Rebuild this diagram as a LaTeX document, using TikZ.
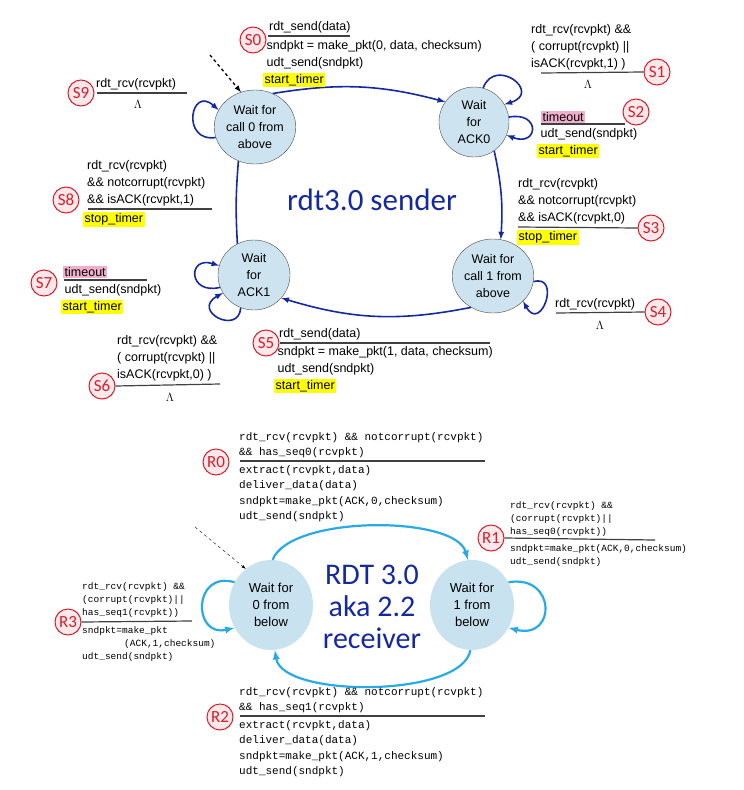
\documentclass[tikz,border=0pt]{standalone}
\usepackage{fontspec}
\usepackage{xcolor}
\usetikzlibrary{shapes.geometric, arrows}
\newfontfamily\fsans{Liberation Sans}
\newfontfamily\fmono{Liberation Mono}
\newfontfamily\fcal{Carlito}
\definecolor{sblue}{RGB}{20,40,160}
\definecolor{rblue}{RGB}{40,170,230}
\definecolor{sfill}{RGB}{205,228,240}
\definecolor{rfill}{RGB}{200,226,240}
\definecolor{cred}{RGB}{215,30,40}
\definecolor{cpink}{RGB}{253,232,235}
\definecolor{tpink}{RGB}{240,175,205}
\definecolor{hyel}{RGB}{255,255,0}
\newcommand{\hy}[1]{{\setlength{\fboxsep}{1.5pt}\colorbox{hyel}{#1}}}
\newcommand{\hp}[1]{{\setlength{\fboxsep}{1.5pt}\colorbox{tpink}{#1}}}
\tikzset{
->, % directed edges
>=latex,
sstate/.style={ellipse, draw=black!70, fill=sfill, minimum width=76pt, minimum height=74pt, inner sep=0pt, align=center, font=\fsans\fontsize{12.5}{17}\selectfont},
rstate/.style={ellipse, fill=rfill, minimum width=84pt, minimum height=90pt, inner sep=0pt, align=center, font=\fsans\fontsize{13}{17}\selectfont},
tag/.style={circle, draw=cred, line width=1pt, fill=cpink, text=cred, minimum size=26pt, inner sep=0pt, font=\fcal\fontsize{17}{17}\selectfont},
slbl/.style={inner sep=1pt, align=left, font=\fsans\fontsize{12.5}{17}\selectfont},
rlbl/.style={inner sep=1pt, align=left, font=\fmono\fontsize{11}{15.5}\selectfont},
rsml/.style={inner sep=1pt, align=left, font=\fmono\fontsize{9.5}{13}\selectfont},
lam/.style={inner sep=0pt, font=\fontsize{13}{13}\selectfont},
bar/.style={-, draw=black!75, line width=1.2pt},
sarr/.style={->, draw=sblue, line width=1.6pt},
rarr/.style={->, draw=rblue, line width=2.2pt},
init/.style={->, dashed, thick, black},
}
\begin{document}
\begin{tikzpicture}[x=1pt, y=-1pt]
\useasboundingbox (0,0) rectangle (744,790);

% sender states
\node[sstate] (A) at (255,127) {Wait for\\call 0 from\\above};
\node[sstate, minimum width=70pt, minimum height=70pt] (B) at (474,122) {Wait\\for\\ACK0};
\node[sstate] (C) at (493,276) {Wait for\\call 1 from\\above};
\node[sstate, minimum width=72pt, minimum height=70pt] (D) at (254,275) {Wait\\for\\ACK1};
\node[text=sblue, font=\fcal\fontsize{31}{31}\selectfont] (stitle) at (372,200) {rdt3.0 sender};

% sender edges
\coordinate (s0in) at (210,55);
\draw[init, line width=1.3pt] (s0in) -- (A.112);
\draw[sarr] (A.62) to[bend left=12] (B.145);
\draw[sarr] (B.-55) to[bend left=8] (C.78);
\draw[sarr] (C.-125) to[bend left=14] (D.-40);
\draw[sarr, -] (D.118) to[bend left=4] (A.-116);
\draw[sarr] (A.195) .. controls +(-35,5) and +(-28,-25) .. (A.155); % S9
\draw[sarr] (B.75) .. controls +(12,-32) and +(38,-12) .. (B.30); % S1
\draw[sarr] (B.8) .. controls +(32,-6) and +(32,12) .. (B.-22); % S2
\draw[sarr] (C.-8) .. controls +(28,-8) and +(18,32) .. (C.-40); % S4
\draw[sarr] (D.200) .. controls +(-32,8) and +(-32,-10) .. (D.165); % S7
\draw[sarr] (D.-112) .. controls +(-2,28) and +(-32,18) .. (D.-150); % S6

% sender labels
\node[tag] (S0) at (253,40) {S0};
\node[slbl, anchor=south west] (s0g) at (268,34) {rdt\_send(data)};
\draw[bar] (s0g.south west) ++(0,2) -- ++(82,0);
\node[slbl, anchor=north west] (s0a) at (262,39) {\ sndpkt = make\_pkt(0, data, checksum)\\\ udt\_send(sndpkt)\\\hy{start\_timer}};

\node[tag] (S1) at (657,72) {S1};
\node[slbl, anchor=south west] (s1g) at (530,71) {rdt\_rcv(rcvpkt) \&\&\\( corrupt(rcvpkt) ||\\isACK(rcvpkt,1) )};
\draw[bar] (541,73) -- (S1.west);
\node[lam] (l1) at (588,84) {$\Lambda$};

\node[tag] (S2) at (636,112) {S2};
\node[slbl, anchor=south west] (s2g) at (540,124) {\hp{timeout}};
\draw[bar] (541,124) -- (625,124);
\node[slbl, anchor=north west] (s2a) at (536,127) {\ udt\_send(sndpkt)\\\hy{start\_timer}};

\node[tag] (S3) at (651,228) {S3};
\node[slbl, anchor=south west] (s3g) at (517,225) {rdt\_rcv(rcvpkt)\\\&\& notcorrupt(rcvpkt)\\\&\& isACK(rcvpkt,0)};
\draw[bar] (518,227) -- (S3.west);
\node[slbl, anchor=north west] (s3a) at (516,229) {\hy{stop\_timer}};

\node[tag] (S4) at (658,312) {S4};
\node[slbl, anchor=south west] (s4g) at (554,311) {rdt\_rcv(rcvpkt)};
\draw[bar] (556,313) -- (S4.west);
\node[lam] (l4) at (600,325) {$\Lambda$};

\node[tag] (S5) at (266,343) {S5};
\node[slbl, anchor=south west] (s5g) at (278,341) {rdt\_send(data)};
\draw[bar] (280,343) -- (490,343);
\node[slbl, anchor=north west] (s5a) at (273,345) {\ sndpkt = make\_pkt(1, data, checksum)\\\ udt\_send(sndpkt)\\\hy{start\_timer}};

\node[tag] (S6) at (102,386) {S6};
\node[slbl, anchor=south west] (s6g) at (116,382) {rdt\_rcv(rcvpkt) \&\&\\( corrupt(rcvpkt) ||\\isACK(rcvpkt,0) )};
\draw[bar] (S6.east) -- (220,384);
\node[lam] (l6) at (170,397) {$\Lambda$};

\node[tag] (S7) at (44,283) {S7};
\node[slbl, anchor=south west] (s7g) at (62,279) {\hp{timeout}};
\draw[bar] (64,280) -- (147,280);
\node[slbl, anchor=north west] (s7a) at (60,283) {\ udt\_send(sndpkt)\\\hy{start\_timer}};

\node[tag] (S8) at (66,200) {S8};
\node[slbl, anchor=south west] (s8g) at (86,207) {rdt\_rcv(rcvpkt)\\\&\& notcorrupt(rcvpkt)\\\&\& isACK(rcvpkt,1)};
\draw[bar] (88,209) -- (212,209);
\node[slbl, anchor=north west] (s8a) at (82,211) {\hy{stop\_timer}};

\node[tag] (S9) at (81,93) {S9};
\node[slbl, anchor=south west] (s9g) at (95,91) {rdt\_rcv(rcvpkt)};
\draw[bar] (97,93) -- (187,93);
\node[lam] (l9) at (138,104) {$\Lambda$};

% receiver states
\node[rstate] (L) at (271,605) {Wait for\\0 from\\below};
\node[rstate] (R) at (472,605) {Wait for\\1 from\\below};
\node[text=sblue, align=center, font=\fcal\fontsize{30}{32}\selectfont] (rtitle) at (372,607) {RDT 3.0\\aka 2.2\\receiver};

% receiver edges
\coordinate (r0in) at (195,527);
\draw[init, thin] (r0in) -- (L.125);
\draw[rarr] (L.88) .. controls (290,515) and (455,515) .. (R.95);
\draw[rarr] (R.-92) .. controls (462,698) and (282,698) .. (L.-85);
\draw[rarr] (L.148) .. controls +(-42,-12) and +(-42,10) .. (L.-148); % R3
\draw[rarr] (R.32) .. controls +(48,-8) and +(48,12) .. (R.-32); % R1

% receiver labels
\node[tag] (R0) at (216,462) {R0};
\node[rlbl, anchor=south west] (r0g) at (238,459) {rdt\_rcv(rcvpkt) \&\& notcorrupt(rcvpkt)\\\&\& has\_seq0(rcvpkt)};
\draw[bar] (240,461) -- (485,461);
\node[rlbl, anchor=north west] (r0a) at (238,464) {extract(rcvpkt,data)\\deliver\_data(data)\\sndpkt=make\_pkt(ACK,0,checksum)\\udt\_send(sndpkt)};

\node[tag] (R1) at (491,538) {R1};
\node[rsml, anchor=south west] (r1g) at (509,538) {rdt\_rcv(rcvpkt) \&\&\\(corrupt(rcvpkt)||\\has\_seq0(rcvpkt))};
\draw[bar] (R1.east) -- (655,540);
\node[rsml, anchor=north west] (r1a) at (509,543) {sndpkt=make\_pkt(ACK,0,checksum)\\udt\_send(sndpkt)};

\node[tag] (R2) at (220,717) {R2};
\node[rlbl, anchor=south west] (r2g) at (238,714) {rdt\_rcv(rcvpkt) \&\& notcorrupt(rcvpkt)\\\&\& has\_seq1(rcvpkt)};
\draw[bar] (240,716) -- (485,716);
\node[rlbl, anchor=north west] (r2a) at (238,719) {extract(rcvpkt,data)\\deliver\_data(data)\\sndpkt=make\_pkt(ACK,1,checksum)\\udt\_send(sndpkt)};

\node[tag] (R3) at (68,622) {R3};
\node[rsml, anchor=south west] (r3g) at (81,619) {rdt\_rcv(rcvpkt) \&\&\\(corrupt(rcvpkt)||\\has\_seq1(rcvpkt))};
\draw[bar] (R3.east) -- (192,621);
\node[rsml, anchor=north west] (r3a) at (81,625) {sndpkt=make\_pkt\\\hspace*{42pt}(ACK,1,checksum)\\udt\_send(sndpkt)};
\end{tikzpicture}
\end{document}
